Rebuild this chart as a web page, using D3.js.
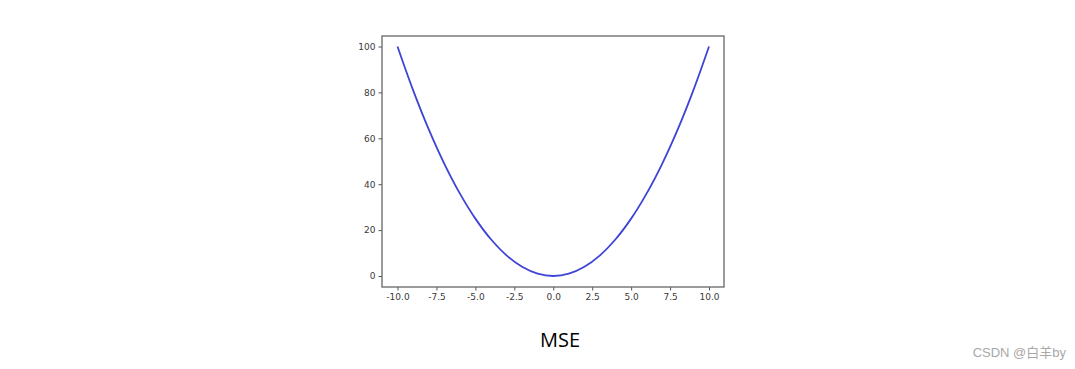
<!DOCTYPE html>
<html><head><meta charset="utf-8">
<script src="https://cdn.jsdelivr.net/npm/d3@7"></script>
<style>body{margin:0;background:#fff;}svg{display:block;}</style>
</head><body>
<svg id="c" width="1075" height="369"></svg>
<script>
const xValues = [-10,-9,-8,-7,-6,-5,-4,-3,-2,-1,0,1,2,3,4,5,6,7,8,9,10];
const yValues = [100,81,64,49,36,25,16,9,4,1,0,1,4,9,16,25,36,49,64,81,100];
const xTicks = [-10,-7.5,-5,-2.5,0,2.5,5,7.5,10];
const yTicks = [0,20,40,60,80,100];
const title = "MSE";
const watermark = "CSDN @白羊by";

const svg = d3.select("#c");
const frame = {l:382, t:36, r:724, b:287};
const x = d3.scaleLinear().domain([-10,10]).range([397.5,709]);
const y = d3.scaleLinear().domain([0,100]).range([276,46.5]);

const g = svg.append("g");
const xa = g.append("g").attr("transform",`translate(0,${frame.b})`)
  .call(d3.axisBottom(x).tickValues(xTicks).tickFormat(d=>d.toFixed(1)).tickSize(3.5).tickPadding(3));
xa.select(".domain").remove();
const ya = g.append("g").attr("transform",`translate(${frame.l},0)`)
  .call(d3.axisLeft(y).tickValues(yTicks).tickSize(3.5).tickPadding(3));
ya.select(".domain").remove();
g.selectAll(".tick text").attr("font-family","DejaVu Sans").attr("font-size","9px").attr("fill","#3a3a3a");
g.selectAll(".tick line").attr("stroke","#555");

const line = d3.line().x((d,i)=>x(xValues[i])).y(d=>y(d)).curve(d3.curveCatmullRom.alpha(0.5));
g.append("path").datum(yValues).attr("d",line).attr("fill","none")
  .attr("stroke","#3d44d6").attr("stroke-width",1.8);

g.append("rect").attr("x",frame.l).attr("y",frame.t).attr("width",frame.r-frame.l).attr("height",frame.b-frame.t)
  .attr("fill","none").attr("stroke","#666").attr("stroke-width",1.3);

svg.append("text").attr("x",560).attr("y",347).attr("text-anchor","middle")
  .attr("font-family","Open Sans, Liberation Sans").attr("font-size","20px").attr("fill","#000").text(title);
svg.append("text").attr("x",1066).attr("y",357).attr("text-anchor","end")
  .attr("font-family","Liberation Sans, Noto Sans CJK SC").attr("font-size","13px").attr("fill","#a8a8a8").text(watermark);
</script>
</body></html>
